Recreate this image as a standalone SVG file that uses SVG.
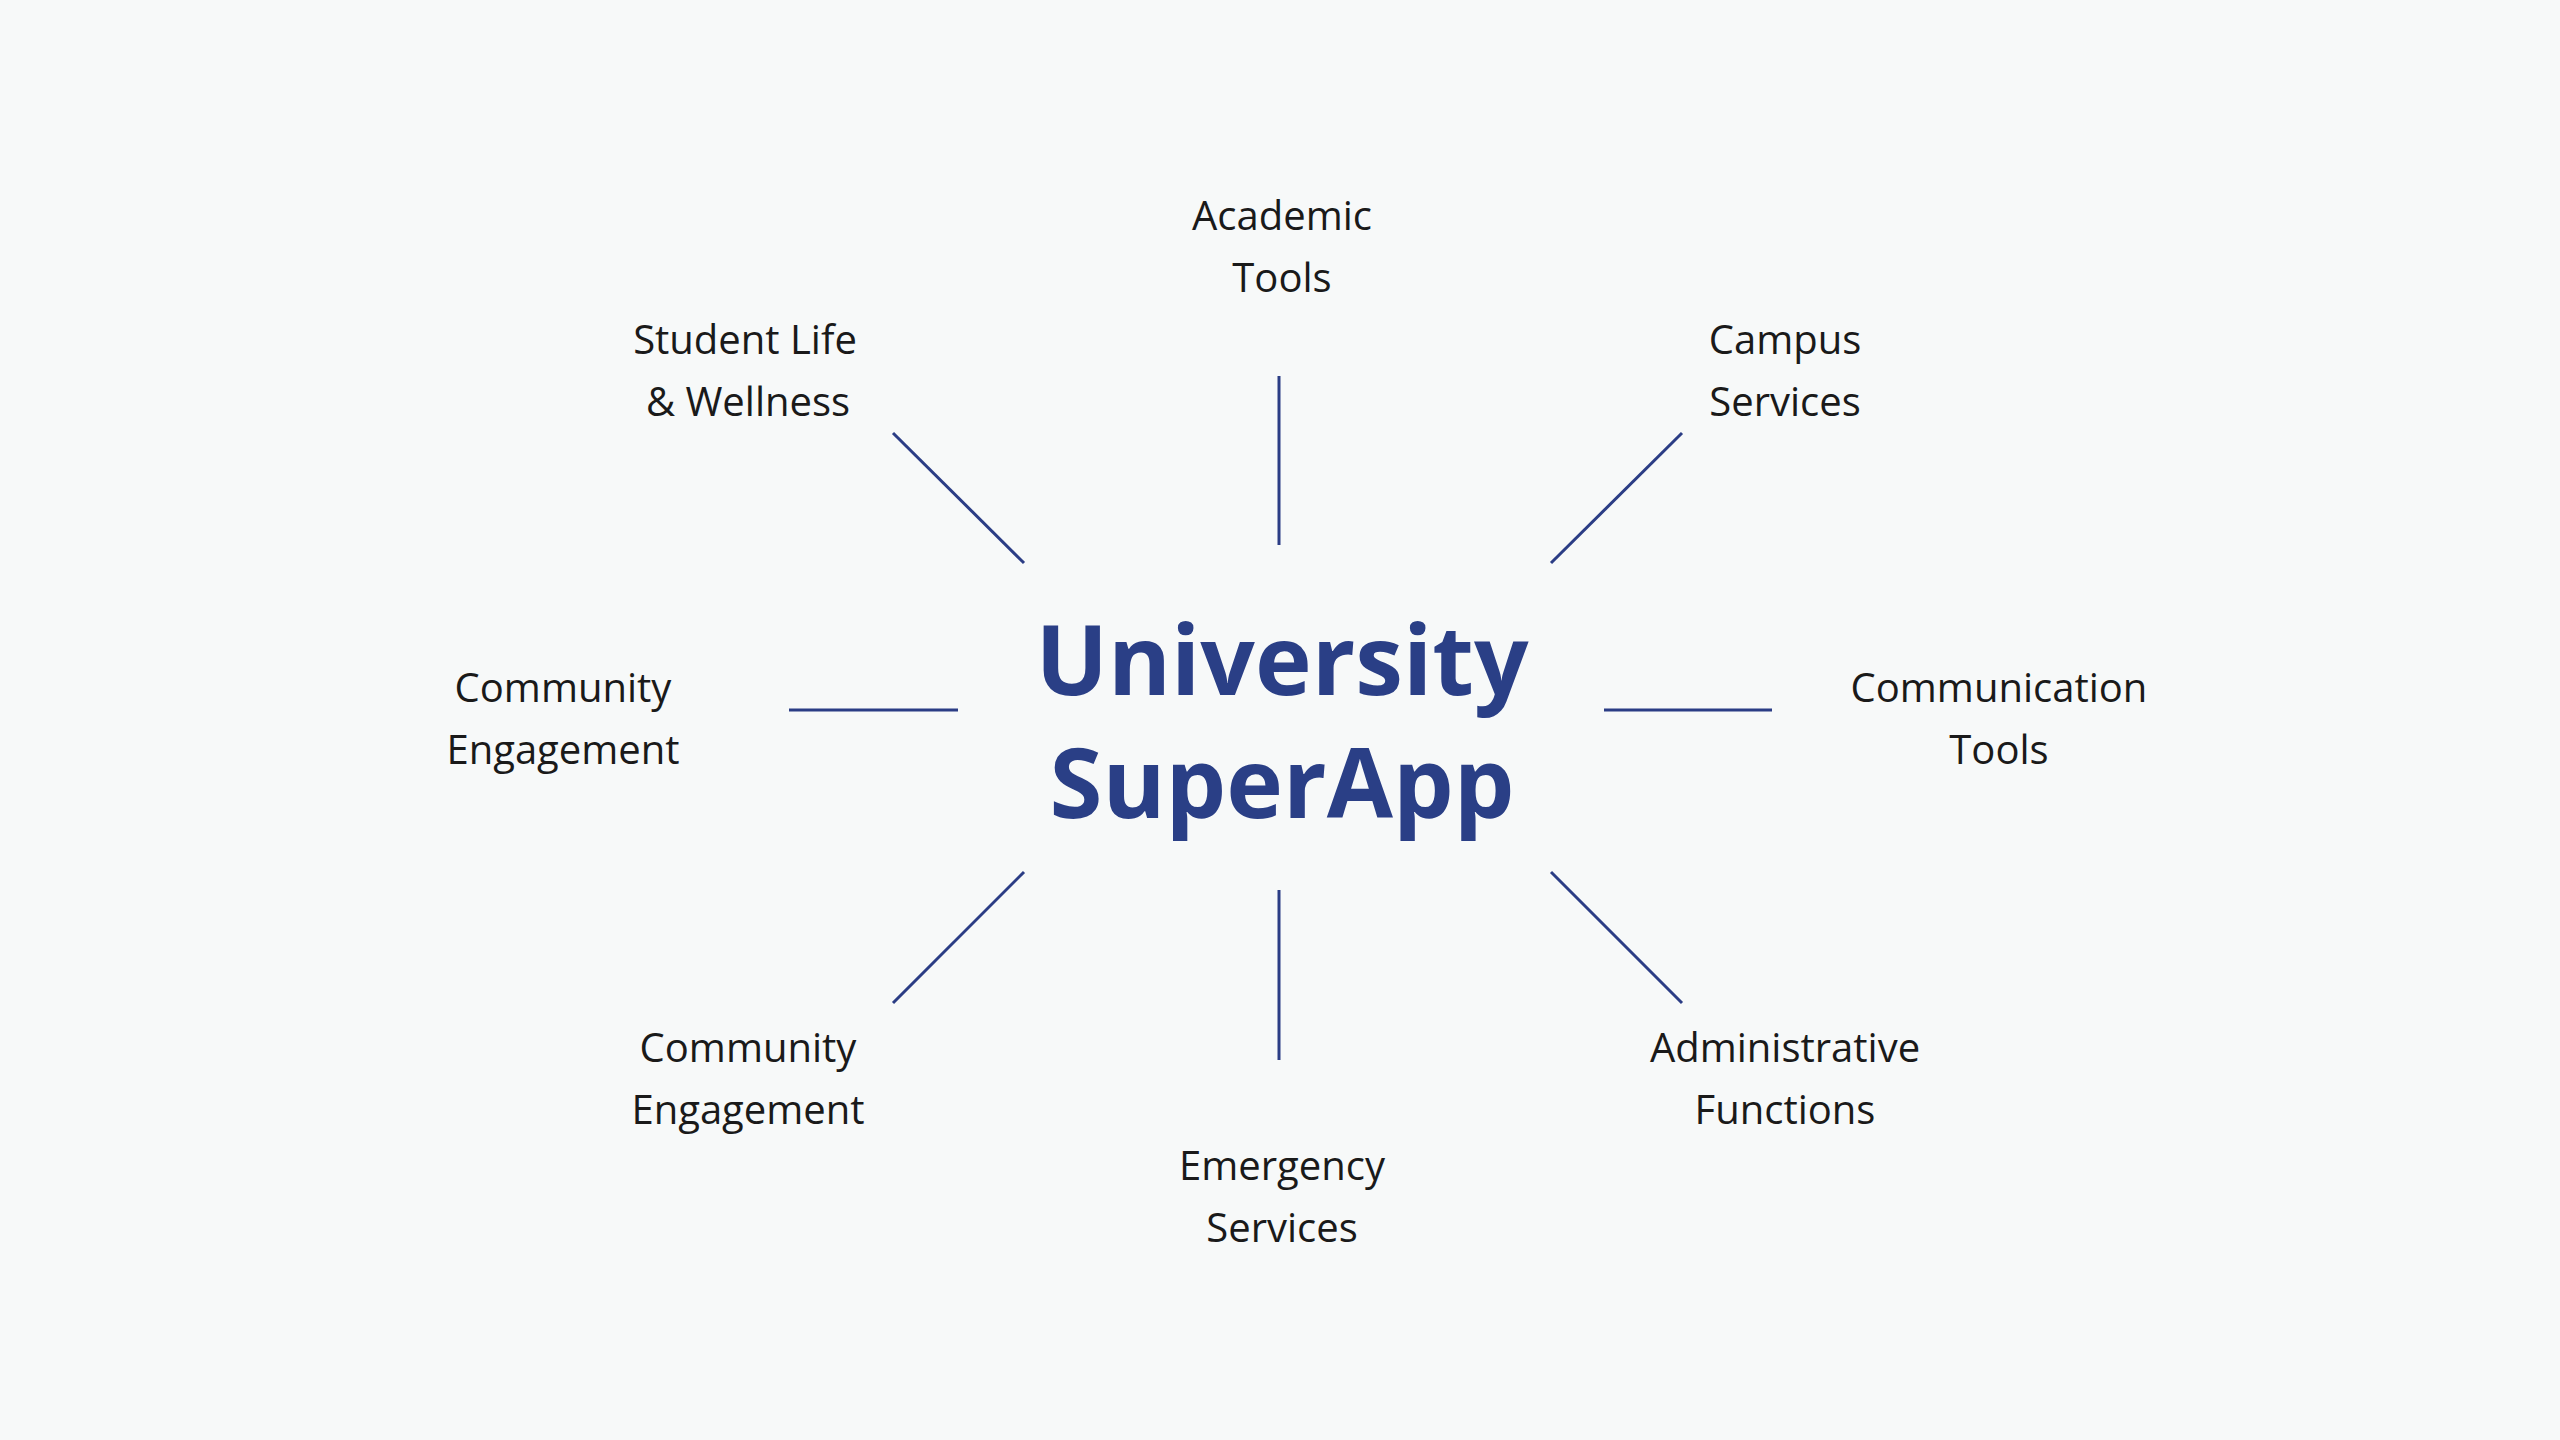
<svg xmlns="http://www.w3.org/2000/svg" width="2560" height="1440" viewBox="0 0 2560 1440">
<style>
.l{font-family:"Open Sans","Liberation Sans",sans-serif;font-size:40px;fill:#1a1a1a;text-anchor:middle}
.t{font-family:"Open Sans","Liberation Sans",sans-serif;font-size:96px;font-weight:bold;fill:#2a3f86;text-anchor:middle}
.c line{stroke:#2b3d85;stroke-width:3}
</style>
<rect width="2560" height="1440" fill="#f7f9f9"/>
<g id="center"><text class="t" x="1282" y="695">University</text><text class="t" x="1282" y="818">SuperApp</text></g>
<g class="c" id="connectors">
<line x1="1279" y1="376" x2="1279" y2="545"/>
<line x1="893" y1="433" x2="1024" y2="563"/>
<line x1="1682" y1="433" x2="1551" y2="563"/>
<line x1="789" y1="710" x2="958" y2="710"/>
<line x1="1604" y1="710" x2="1772" y2="710"/>
<line x1="1024" y1="872" x2="893" y2="1003"/>
<line x1="1551" y1="872" x2="1682" y2="1003"/>
<line x1="1279" y1="890" x2="1279" y2="1060"/>
</g>
<g id="n1"><text class="l" x="1282" y="230">Academic</text><text class="l" x="1282" y="292">Tools</text></g>
<g id="n2"><text class="l" x="745" y="354">Student Life</text><text class="l" x="748" y="416">&amp; Wellness</text></g>
<g id="n3"><text class="l" x="1785" y="354">Campus</text><text class="l" x="1785" y="416">Services</text></g>
<g id="n4"><text class="l" x="563" y="702">Community</text><text class="l" x="563" y="764">Engagement</text></g>
<g id="n5"><text class="l" x="1999" y="702">Communication</text><text class="l" x="1999" y="764">Tools</text></g>
<g id="n6"><text class="l" x="748" y="1062">Community</text><text class="l" x="748" y="1124">Engagement</text></g>
<g id="n7"><text class="l" x="1785" y="1062">Administrative</text><text class="l" x="1785" y="1124">Functions</text></g>
<g id="n8"><text class="l" x="1282" y="1180">Emergency</text><text class="l" x="1282" y="1242">Services</text></g>
</svg>
